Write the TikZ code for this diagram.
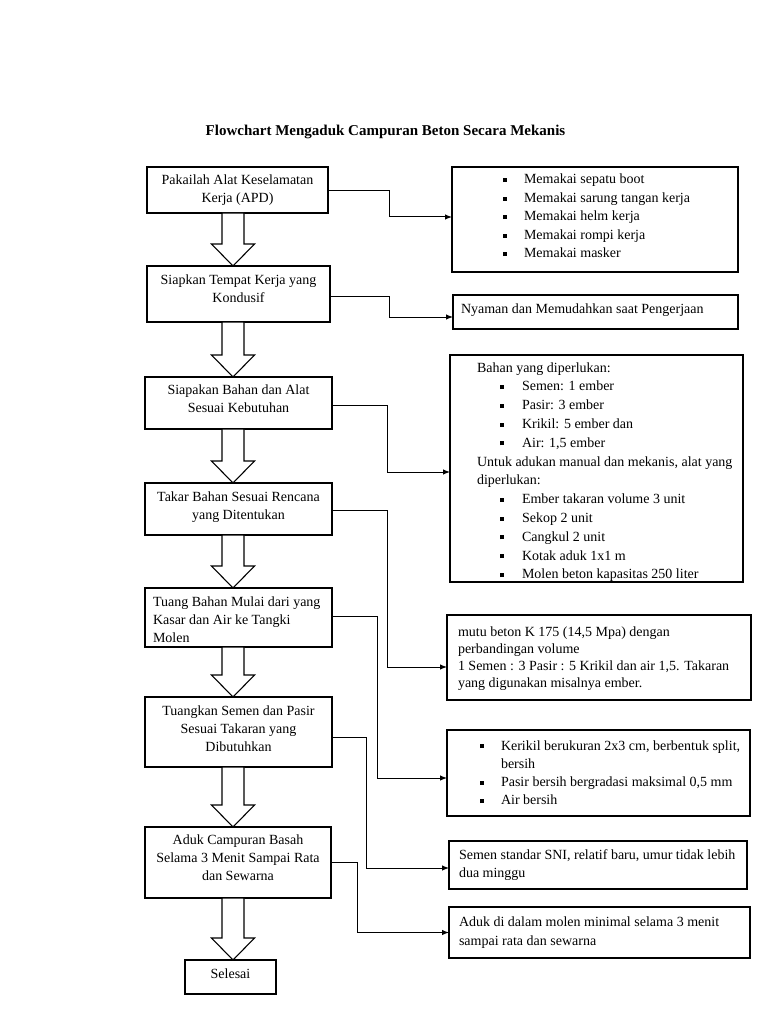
\documentclass[tikz,border=0pt]{standalone}
\usepackage{fontspec}
\setmainfont{Liberation Serif}
\usetikzlibrary{arrows.meta,calc}
\newcommand{\bxt}[4]{\parbox[c][#2][t]{#1}{\vspace*{#3}#4}}
\newcommand{\fst}{\rule{0pt}{10pt}}
\newcommand{\bl}[2]{\hspace*{#1}\rule[1.8pt]{4pt}{4pt}\hspace*{#2}}
\newcommand{\barrow}[2]{\draw[blockarrow] let \p1=(#1.south), \p2=(#2.north) in
  (222pt,\y1) -- (244pt,\y1) -- (244pt,\y2+22pt) -- (254.5pt,\y2+22pt) -- (233pt,\y2)
  -- (211.5pt,\y2+22pt) -- (222pt,\y2+22pt) -- cycle;}
\tikzset{
  stepbox/.style={draw=black, line width=1.1pt, inner sep=0pt, outer sep=0pt, fill=white,
    font=\fontsize{14}{18}\selectfont},
  conn/.style={draw=black, line width=1pt, -{Latex[length=7pt,width=5.5pt]}},
  blockarrow/.style={draw=black, line width=1.1pt, fill=white, line join=miter},
}
\begin{document}
\begin{tikzpicture}[x=1pt,y=-1pt]
\fill[white] (0,0) rectangle (768,1024);
\useasboundingbox (0,0) rectangle (768,1024);

\node[font=\bfseries\fontsize{15}{18}\selectfont, anchor=base] (title) at (385.5,136)
  {Flowchart Mengaduk Campuran Beton Secara Mekanis};

% left column
\node[stepbox] (b1) at (237.5,190) {\bxt{181pt}{46pt}{8pt}{\centering\fst Pakailah Alat Keselamatan\\Kerja (APD)}};
\node[stepbox] (b2) at (238.5,294) {\bxt{183pt}{56pt}{8pt}{\centering\fst Siapkan Tempat Kerja yang\\Kondusif}};
\node[stepbox] (b3) at (238.5,403) {\bxt{187pt}{52pt}{7pt}{\centering\fst Siapakan Bahan dan Alat\\Sesuai Kebutuhan}};
\node[stepbox] (b4) at (238.5,509) {\bxt{187pt}{52pt}{8pt}{\centering\fst Takar Bahan Sesuai Rencana\\yang Ditentukan}};
\node[stepbox] (b5) at (238.5,617.5) {\bxt{187pt}{59pt}{8pt}{\raggedright\fst\hspace*{8pt}Tuang Bahan Mulai dari yang\\\hspace*{8pt}Kasar dan Air ke Tangki\\\hspace*{8pt}Molen}};
\node[stepbox] (b6) at (238.5,732) {\bxt{187pt}{70pt}{8pt}{\centering\fst Tuangkan Semen dan Pasir\\Sesuai Takaran yang\\Dibutuhkan}};
\node[stepbox] (b7) at (238,862.5) {\bxt{186pt}{71pt}{7pt}{\centering\fst Aduk Campuran Basah\\Selama 3 Menit Sampai Rata\\dan Sewarna}};
\node[stepbox] (b8) at (230.5,977) {\bxt{91pt}{34pt}{8pt}{\centering\fst Selesai}};

% right column
\node[stepbox] (r1) at (595,219.5) {\bxt{286pt}{105pt}{7pt}{\fontsize{14}{18.5}\selectfont\raggedright\fst
  \bl{51pt}{17pt}Memakai sepatu boot\\
  \bl{51pt}{17pt}Memakai sarung tangan kerja\\
  \bl{51pt}{17pt}Memakai helm kerja\\
  \bl{51pt}{17pt}Memakai rompi kerja\\
  \bl{51pt}{17pt}Memakai masker}};
\node[stepbox] (r2) at (595.5,312) {\bxt{285pt}{34pt}{8pt}{\raggedright\fst\hspace*{8pt}Nyaman dan Memudahkan saat Pengerjaan}};
\node[stepbox] (r3) at (596.5,468.5) {\bxt{293pt}{227pt}{7pt}{\fontsize{14}{18.8}\selectfont\raggedright\fst
  \hspace*{27pt}Bahan yang diperlukan:\\
  \bl{50pt}{18pt}Semen: 1 ember\\
  \bl{50pt}{18pt}Pasir: 3 ember\\
  \bl{50pt}{18pt}Krikil: 5 ember dan\\
  \bl{50pt}{18pt}Air: 1,5 ember\\
  \hspace*{27pt}Untuk adukan manual dan mekanis, alat yang\\
  \hspace*{27pt}diperlukan:\\
  \bl{50pt}{18pt}Ember takaran volume 3 unit\\
  \bl{50pt}{18pt}Sekop 2 unit\\
  \bl{50pt}{18pt}Cangkul 2 unit\\
  \bl{50pt}{18pt}Kotak aduk 1x1 m\\
  \bl{50pt}{18pt}Molen beton kapasitas 250 liter}};
\node[stepbox] (r4) at (599,657.5) {\bxt{304pt}{85pt}{11pt}{\fontsize{14}{17}\selectfont\raggedright\fst
  \hspace*{11pt}mutu beton K 175 (14,5 Mpa) dengan\\
  \hspace*{11pt}perbandingan volume\\
  \hspace*{11pt}1 Semen : 3 Pasir : 5 Krikil dan air 1,5. Takaran\\
  \hspace*{11pt}yang digunakan misalnya ember.}};
\node[stepbox] (r5) at (598.5,773) {\bxt{303pt}{86pt}{10pt}{\fontsize{14}{18.3}\selectfont\raggedright\fst
  \bl{33pt}{17pt}Kerikil berukuran 2x3 cm, berbentuk split,\\
  \hspace*{54pt}bersih\\
  \bl{33pt}{17pt}Pasir bersih bergradasi maksimal 0,5 mm\\
  \bl{33pt}{17pt}Air bersih}};
\node[stepbox] (r6) at (598,865) {\bxt{298pt}{48pt}{8pt}{\raggedright\fst
  \hspace*{10pt}Semen standar SNI, relatif baru, umur tidak lebih\\
  \hspace*{10pt}dua minggu}};
\node[stepbox] (r7) at (599.5,932.5) {\bxt{301pt}{51pt}{9pt}{\fontsize{14}{19}\selectfont\raggedright\fst
  \hspace*{10pt}Aduk di dalam molen minimal selama 3 menit\\
  \hspace*{10pt}sampai rata dan sewarna}};

% block arrows
\barrow{b1}{b2}
\barrow{b2}{b3}
\barrow{b3}{b4}
\barrow{b4}{b5}
\barrow{b5}{b6}
\barrow{b6}{b7}
\barrow{b7}{b8}

% connectors
\draw[conn] ([yshift=-1pt]b1.east) -- ++(61,0) |- ([yshift=2.5pt]r1.west);
\draw[conn] ([yshift=-2pt]b2.east) -- ++(59,0) |- ([yshift=-5pt]r2.west);
\draw[conn] ([yshift=-2pt]b3.east) -- ++(55,0) |- ([yshift=-3.5pt]r3.west);
\draw[conn] ([yshift=-1pt]b4.east) -- ++(55,0) |- ([yshift=-9.5pt]r4.west);
\draw[conn] ([yshift=1.5pt]b5.east) -- ++(45,0) |- ([yshift=-5pt]r5.west);
\draw[conn] ([yshift=-5pt]b6.east) -- ++(34,0) |- ([yshift=-3pt]r6.west);
\draw[conn] (b7.east) -- ++(26,0) |- (r7.west);
\end{tikzpicture}
\end{document}
